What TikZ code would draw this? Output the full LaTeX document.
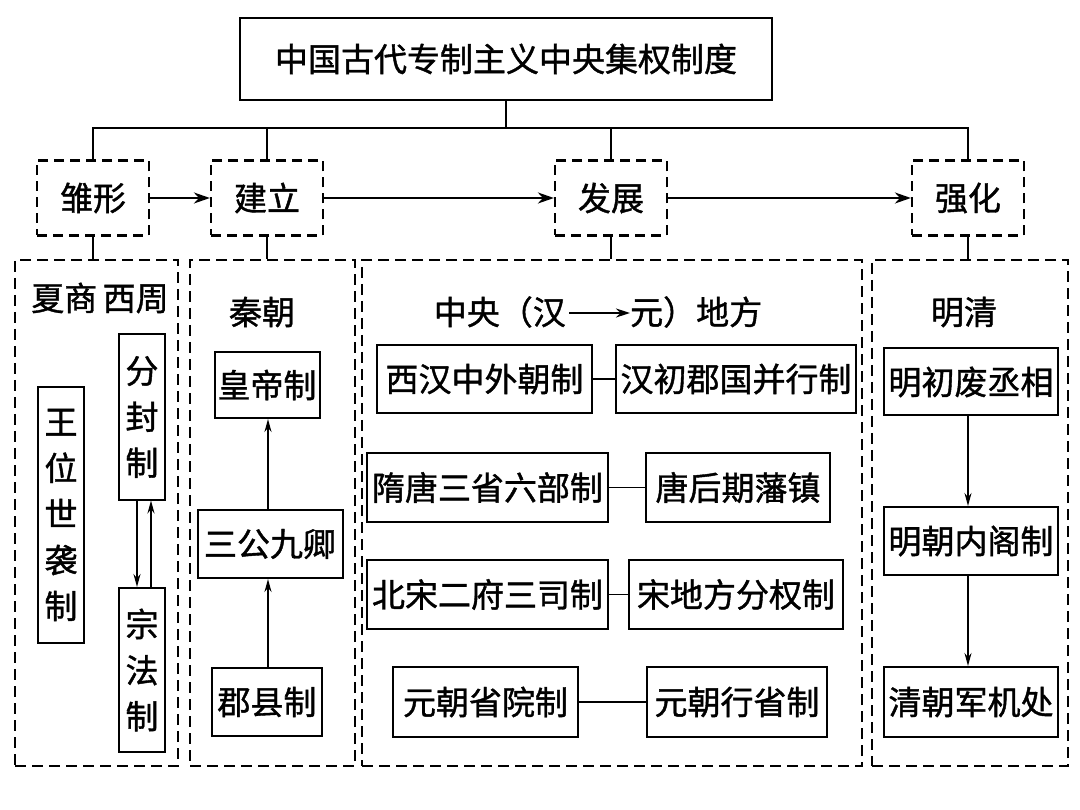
\documentclass[tikz,border=0pt]{standalone}
\usepackage{fontspec}
\setmainfont{Noto Sans CJK SC}[FakeBold=1.2]
\usetikzlibrary{arrows.meta}

\tikzset{
  titlebox/.style={draw, line width=2pt, minimum width=532pt, minimum height=82pt, inner sep=0pt},
  stage/.style={draw, line width=2.2pt, dash pattern=on 10pt off 6pt, minimum width=112pt, minimum height=75pt, inner sep=0pt},
  region/.style={draw, line width=2.4pt, dash pattern=on 11pt off 6pt, inner sep=0pt},
  item/.style={draw, line width=2pt, minimum height=68pt, inner sep=0pt},
  vitem/.style={draw, line width=2pt, minimum width=46pt, inner sep=0pt, align=center, font=\fontsize{33}{46}\selectfont},
  link/.style={line width=1.6pt},
  stagearrow/.style={line width=2.4pt, -{Stealth[length=16pt, width=11pt]}},
  arrow/.style={line width=1.6pt, -{Stealth[length=13pt, width=7pt]}},
}

\begin{document}
\begin{tikzpicture}[x=1pt, y=-1pt, font=\fontsize{33}{44}\selectfont]
  \useasboundingbox (0,0) rectangle (1080,810);

  % Titulo
  \node[titlebox] (title) at (506,59) {中国古代专制主义中央集权制度};

  % Etapas
  \node[stage] (s1) at (93,198) {雏形};
  \node[stage] (s2) at (267,198) {建立};
  \node[stage] (s3) at (611,198) {发展};
  \node[stage] (s4) at (968,198) {强化};

  \coordinate (bus) at (506,128);
  \draw[link] (title.south) -- (bus);
  \draw[link] (s1.north) -- (s1.north |- bus) -- (s4.north |- bus) -- (s4.north);
  \draw[link] (s2.north) -- (s2.north |- bus);
  \draw[link] (s3.north) -- (s3.north |- bus);

  \draw[stagearrow] (s1) -- (s2);
  \draw[stagearrow] (s2) -- (s3);
  \draw[stagearrow] (s3) -- (s4);

  % Bloques
  \node[region, minimum width=163pt, minimum height=506pt] (r1) at (96.5,513) {};
  \node[region, minimum width=165pt, minimum height=506pt] (r2) at (272.5,513) {};
  \node[region, minimum width=500pt, minimum height=506pt] (r3) at (612,513) {};
  \node[region, minimum width=196pt, minimum height=506pt] (r4) at (970,513) {};

  \draw[link] (s1.south) -- (s1.south |- r1.north);
  \draw[link] (s2.south) -- (s2.south |- r2.north);
  \draw[link] (s3.south) -- (s3.south |- r3.north);
  \draw[link] (s4.south) -- (s4.south |- r4.north);

  % Xia Shang, Zhou
  \node (xiazhou) at (100,298) {夏商\,西周};
  \node[vitem, minimum height=255pt] (wangwei) at (61,515) {王\\位\\世\\袭\\制};
  \node[vitem, minimum height=165pt] (fenfeng) at (142,417) {分\\封\\制};
  \node[vitem, minimum height=164pt] (zongfa) at (142,670) {宗\\法\\制};
  \draw[arrow] ([xshift=-5pt]fenfeng.south) -- ([xshift=-5pt]zongfa.north);
  \draw[arrow] ([xshift=9pt]zongfa.north) -- ([xshift=9pt]fenfeng.south);

  % Qin
  \node (qin) at (262,312) {秦朝};
  \node[item, minimum width=105pt, minimum height=66pt] (huangdi) at (267,385) {皇帝制};
  \node[item, minimum width=145pt] (sangong) at (270,544) {三公九卿};
  \node[item, minimum width=110pt] (junxian) at (267,702) {郡县制};
  \draw[arrow] ([xshift=-2pt]sangong.south |- junxian.north) -- ([xshift=-2pt]sangong.south);
  \draw[arrow] ([xshift=-2pt]sangong.north) -- ([xshift=-2pt]sangong.north |- huangdi.south);

  % Han - Yuan
  \node[anchor=east, inner xsep=0pt] (zhongyang) at (566,312) {中央（汉};
  \node[anchor=west, inner xsep=0pt] (difang) at (630,312) {元）地方};
  \draw[line width=2pt, -{Stealth[length=14pt, width=9pt]}] ([xshift=3pt,yshift=-1pt]zhongyang.east) -- ([yshift=-1pt]difang.west);
  \node[item, minimum width=215pt] (xihan) at (484.5,379) {西汉中外朝制};
  \node[item, minimum width=240pt] (hanchu) at (736,379) {汉初郡国并行制};
  \node[item, minimum width=241pt, minimum height=69pt] (suitang) at (487.5,487.5) {隋唐三省六部制};
  \node[item, minimum width=184pt, minimum height=69pt] (tanghou) at (738,487.5) {唐后期藩镇};
  \node[item, minimum width=241pt, minimum height=69pt] (beisong) at (487.5,594.5) {北宋二府三司制};
  \node[item, minimum width=214pt, minimum height=69pt] (songdi) at (736,594.5) {宋地方分权制};
  \node[item, minimum width=185pt, minimum height=70pt] (yuansheng) at (485.5,702) {元朝省院制};
  \node[item, minimum width=180pt, minimum height=70pt] (yuanxing) at (737,702) {元朝行省制};
  \draw[link] (xihan) -- (hanchu);
  \draw[link] (suitang) -- (tanghou);
  \draw[link] (beisong) -- (songdi);
  \draw[link] (yuansheng) -- (yuanxing);

  % Ming Qing
  \node (mingqing) at (964,312) {明清};
  \node[item, minimum width=174pt, minimum height=67pt] (mingchu) at (971,382) {明初废丞相};
  \node[item, minimum width=174pt] (neige) at (971,541) {明朝内阁制};
  \node[item, minimum width=174pt, minimum height=70pt] (junji) at (971,702) {清朝军机处};
  \draw[arrow] ([xshift=-3pt]mingchu.south) -- ([xshift=-3pt]neige.north);
  \draw[arrow] ([xshift=-3pt]neige.south) -- ([xshift=-3pt]junji.north);
\end{tikzpicture}
\end{document}
